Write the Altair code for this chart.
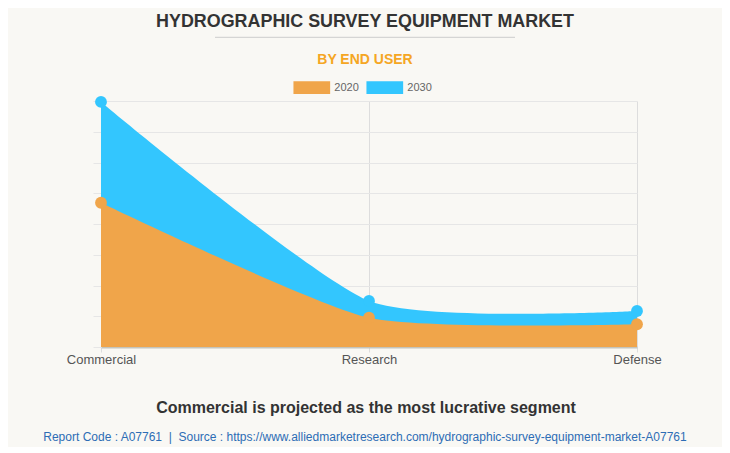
import altair as alt
import pandas as pd

categories = ["Commercial", "Research", "Defense"]
years = ["2020", "2030"]
values_2020 = [469, 95, 74]
values_2030 = [797, 150, 117]
colors = ["#f0a54a", "#33c6fe"]
y_ticks = [0, 100, 200, 300, 400, 500, 600, 700, 800]

rows = []
for c, a, b in zip(categories, values_2020, values_2030):
    rows.append({"segment": c, "year": "2020", "value": a})
    rows.append({"segment": c, "year": "2030", "value": b})
df = pd.DataFrame(rows)

FONT = "Liberation Sans"

x_enc = alt.X(
    "segment:N",
    sort=categories,
    scale=alt.Scale(type="point", padding=0),
    axis=alt.Axis(
        title=None, labelAngle=0, labelFontSize=13, labelColor="#555555",
        labelFont=FONT, labelPadding=1, tickSize=5, tickColor="#dddddd",
        grid=True, gridColor="#dddddd", domainColor="#c4c4bc", domainWidth=2,
    ),
)
y_enc = alt.Y(
    "value:Q",
    stack=None,
    scale=alt.Scale(domain=[0, 800], nice=False),
    axis=alt.Axis(
        title=None, labels=False, domain=False, values=y_ticks,
        tickSize=8, tickColor="#e6e6e6", gridColor="#e6e6e6",
    ),
)
color_legend = alt.Color(
    "year:N",
    title=None,
    scale=alt.Scale(domain=years, range=colors),
    legend=alt.Legend(
        orient="none", direction="horizontal", legendX=192.3, legendY=-32,
        symbolType="M-1,-0.346H1V0.346H-1Z", symbolSize=1347,
        symbolStrokeWidth=0, symbolOpacity=1, labelFontSize=11,
        labelColor="#666666", labelFont=FONT, columnPadding=7,
        labelOffset=4, padding=0,
    ),
)
color_plain = alt.Color("year:N", scale=alt.Scale(domain=years, range=colors), legend=None)

base = alt.Chart(df)
area30 = base.transform_filter("datum.year == '2030'").mark_area(
    interpolate="cardinal", tension=0.4, opacity=1
).encode(x=x_enc, y=y_enc, color=color_legend)
area20 = base.transform_filter("datum.year == '2020'").mark_area(
    interpolate="cardinal", tension=0.4, opacity=1
).encode(x=x_enc, y=y_enc, color=color_plain)
pts30 = base.transform_filter("datum.year == '2030'").mark_point(
    filled=True, size=140, opacity=1
).encode(x=x_enc, y=y_enc, color=color_plain)
pts20 = base.transform_filter("datum.year == '2020'").mark_point(
    filled=True, size=140, opacity=1
).encode(x=x_enc, y=y_enc, color=color_plain)


def label(text, x, y, size, color, weight="normal"):
    return alt.Chart(alt.Data(values=[{}])).mark_text(
        text=text, font=FONT, fontSize=size, fontWeight=weight, color=color,
        align="center", baseline="alphabetic",
    ).encode(x=alt.value(x), y=alt.value(y))


title_t = label("HYDROGRAPHIC SURVEY EQUIPMENT MARKET", 264, -73.7, 17.9, "#333333", "bold")
rule = alt.Chart(alt.Data(values=[{}])).mark_rule(color="#cccccc", strokeWidth=1).encode(
    x=alt.value(114), x2=alt.value(414), y=alt.value(-63.7)
)
sub_t = label("BY END USER", 264, -36.7, 14, "#f5a623", "bold")
bottom_t = label("Commercial is projected as the most lucrative segment", 265, 312, 16, "#333333", "bold")
footer_t = label(
    "Report Code : A07761\u00a0 |\u00a0 Source : https://www.alliedmarketresearch.com/hydrographic-survey-equipment-market-A07761",
    264, 340, 12, "#2d6db5",
)

chart = alt.layer(
    area30, area20, pts30, pts20, title_t, rule, sub_t, bottom_t, footer_t
).properties(
    width=536, height=246,
    padding={"left": 93, "top": 93, "right": 85, "bottom": 100},
    autosize=alt.AutoSizeParams(type="none"),
    background="#f9f8f4",
).configure_view(strokeWidth=0)

chart.save("out.html", embed_options={"renderer": "svg", "actions": False})
